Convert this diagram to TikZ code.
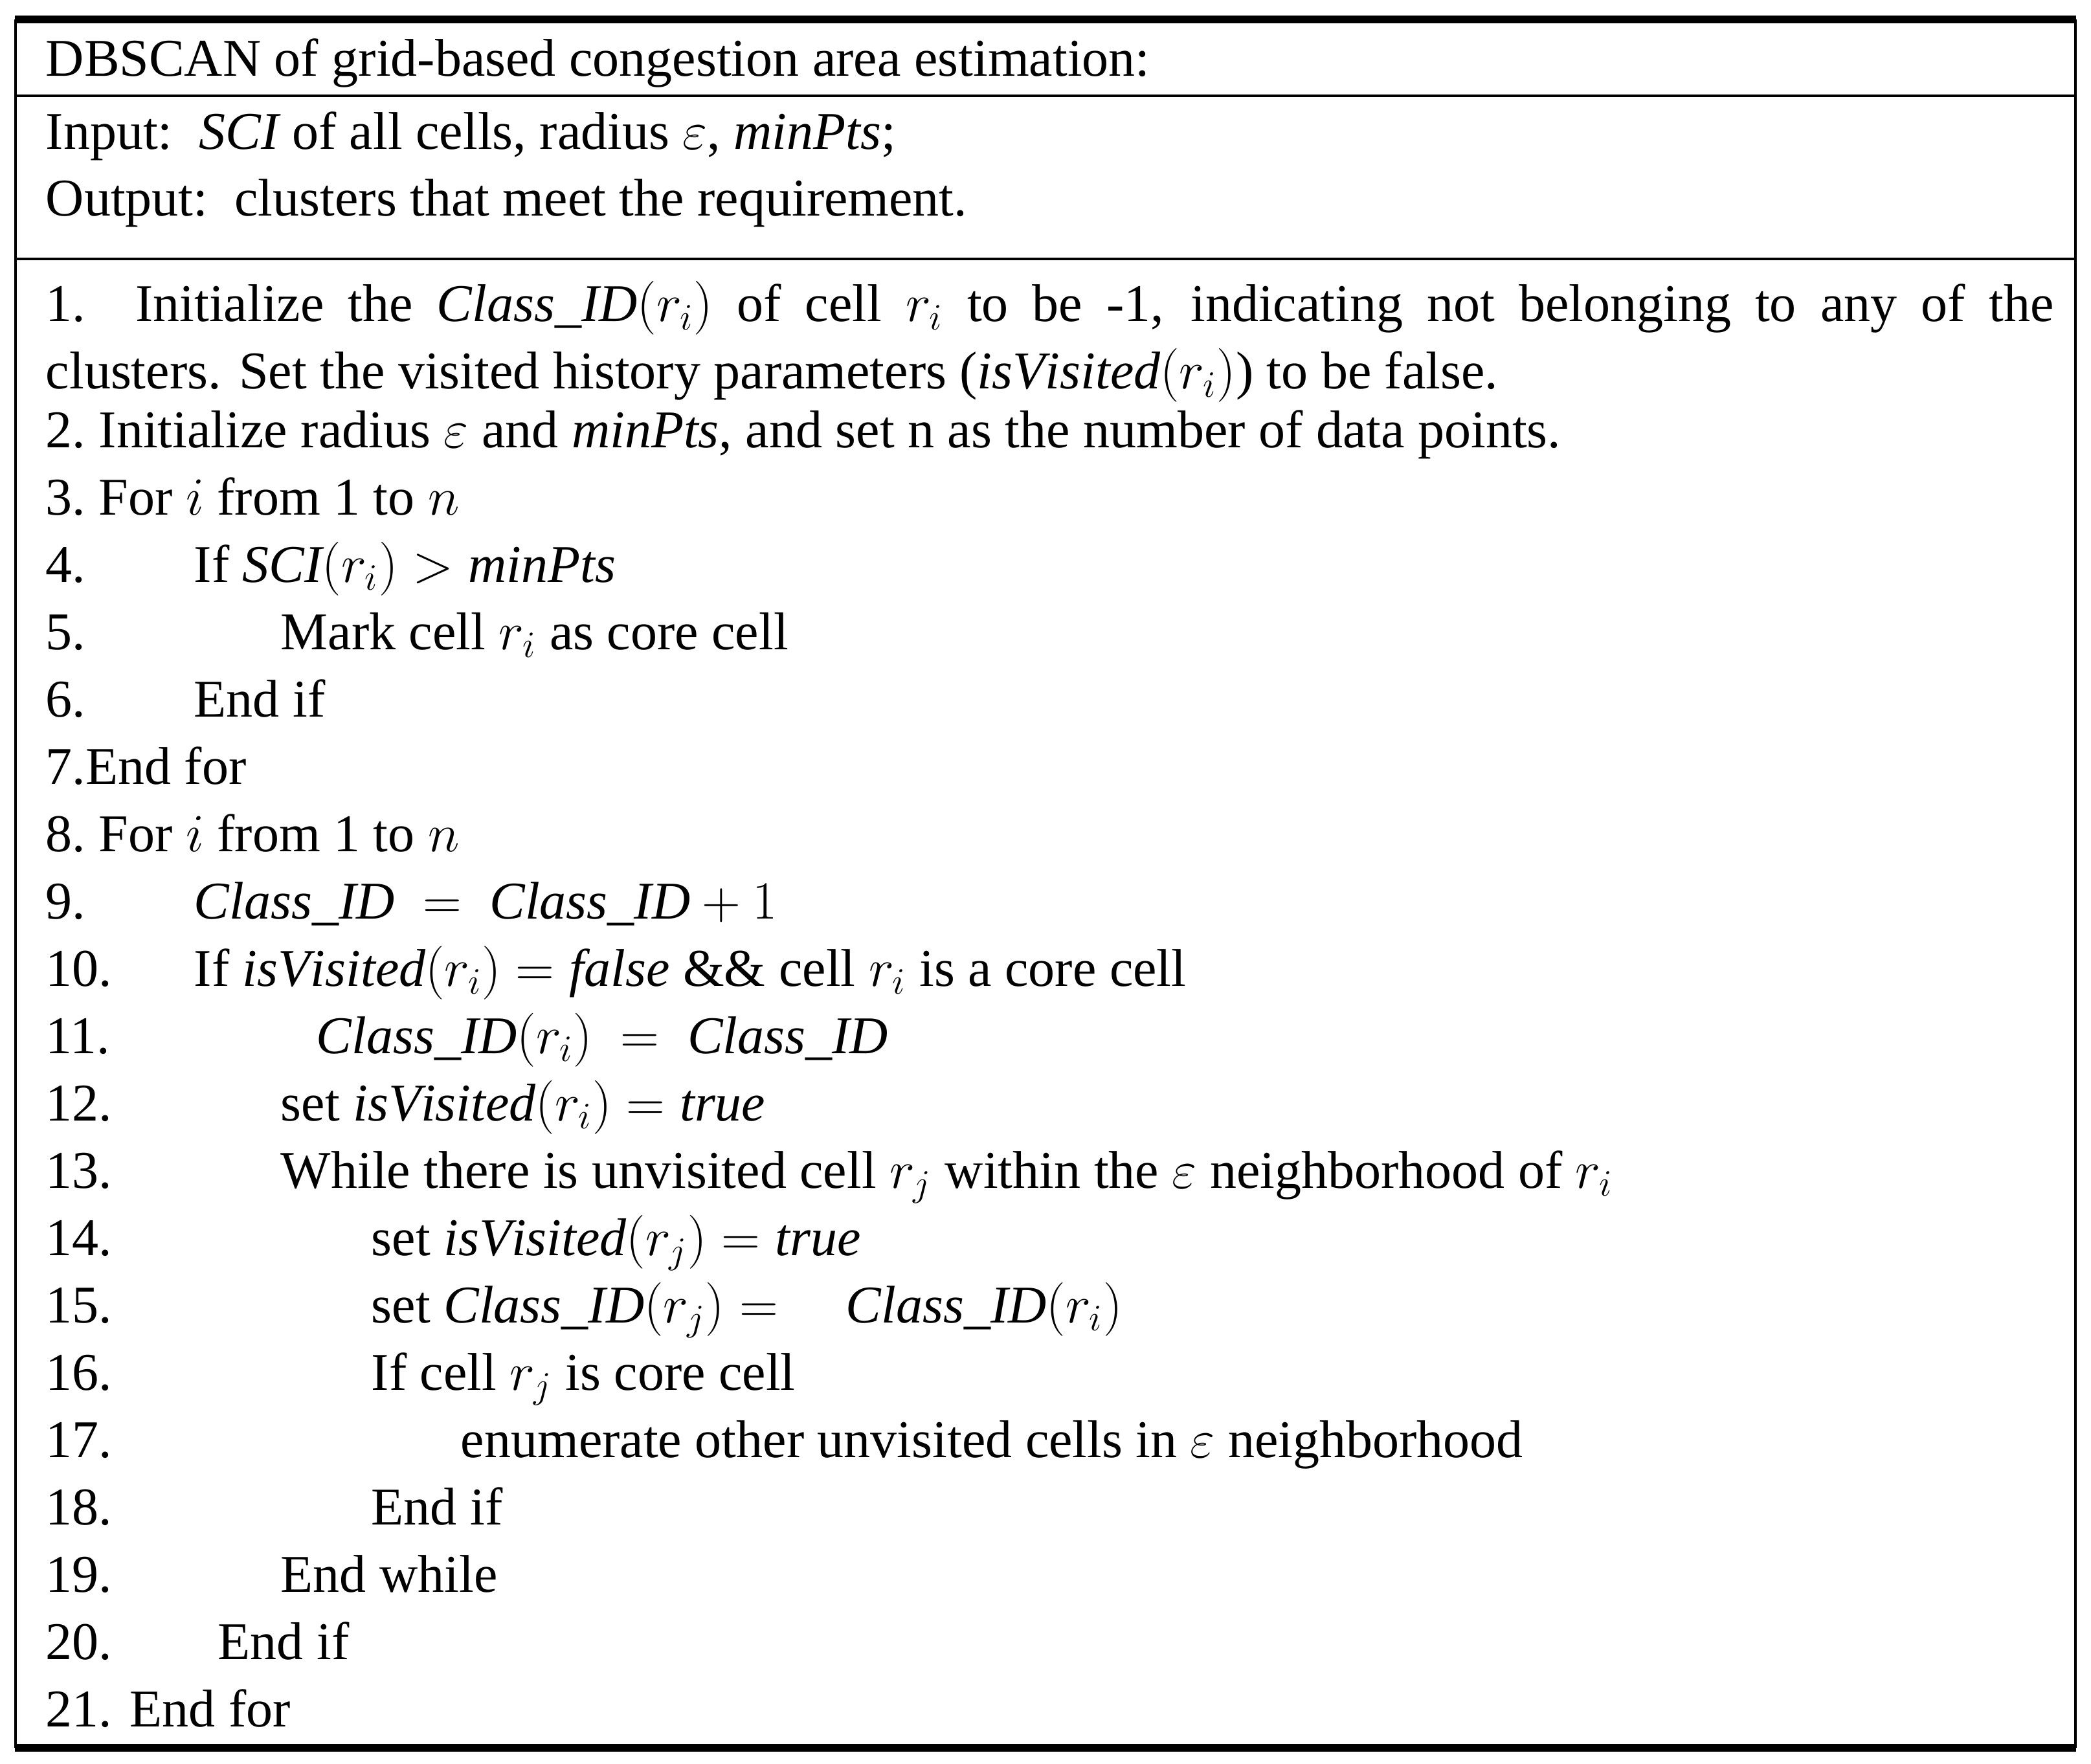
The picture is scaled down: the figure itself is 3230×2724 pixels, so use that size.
\documentclass[tikz,border=0pt]{standalone}
\usepackage{fontspec}
\setmainfont{Liberation Serif}
\begin{document}
\begin{tikzpicture}[x=0.25pt,y=-0.25pt,
  txt/.style={anchor=base west,inner sep=0pt,font=\fontsize{20.5}{26}\selectfont}]
\useasboundingbox (0,0) rectangle (3230,2724);
\newcommand{\CID}{\mathit{Class\_ID}}
\newcommand{\isV}{\mathit{isVisited}}
\draw[line width=3pt] (23,30) -- (3207,30);
\draw[line width=3pt] (23,2700) -- (3207,2700);
\draw[line width=0.8pt] (24,30) -- (24,2700) (3206,30) -- (3206,2700);
\draw[line width=0.8pt] (23,148) -- (3207,148) (23,400) -- (3207,400);
\node[txt] (t) at (70,117) {DBSCAN of grid-based congestion area estimation:};
\node[txt] (in) at (70,230) {Input:\ \ $\mathit{SCI}$ of all cells, radius $\varepsilon$, $\mathit{minPts}$;};
\node[txt] (out) at (70,333) {Output:\ \ clusters that meet the requirement.};
\node[txt,anchor=north west,text width=775.5pt,align=justify] (l1) at (70,434) {1. Initialize the $\CID(r_i)$ of cell $r_i$ to be -1, indicating not belonging to any of the\linebreak clusters. Set the visited history parameters ($\isV(r_i)$) to be false.};
\foreach \k/\x/\n/\t in {
 2/70/2./{Initialize radius $\varepsilon$ and $\mathit{minPts}$, and set n as the number of data points.},
 3/70/3./{For $i$ from 1 to $n$},
 4/70/4./{},
 5/70/5./{},
 6/70/6./{},
 7/70/7.End for/{},
 8/70/8./{For $i$ from 1 to $n$},
 9/70/9./{},10/70/10./{},11/70/11./{},12/70/12./{},13/70/13./{},14/70/14./{},
 15/70/15./{},16/70/16./{},17/70/17./{},18/70/18./{},19/70/19./{},20/70/20./{},
 21/70/21. End for/{}}
 {\node[txt] (n\k) at (\x,{483+104*\k}) {\n\ifx\relax\t\relax\else\ \t\fi};}
\newcommand{\row}[3]{\node[txt] (r#1) at (#2,{483+104*#1}) {#3};}
\row{4}{299}{If $\mathit{SCI}(r_i)>\mathit{minPts}$}
\row{5}{433}{Mark cell $r_i$ as core cell}
\row{6}{299}{End if}
\row{9}{299}{$\CID\ =\ \CID+1$}
\row{10}{299}{If $\isV(r_i)=\mathit{false}$ \&\& cell $r_i$ is a core cell}
\row{11}{488}{$\CID(r_i)\ =\ \CID$}
\row{12}{433}{set $\isV(r_i)=\mathit{true}$}
\row{13}{433}{While there is unvisited cell $r_j$ within the $\varepsilon$ neighborhood of $r_i$}
\row{14}{573}{set $\isV\bigl(r_j\bigr)=\mathit{true}$}
\row{15}{573}{set $\CID\bigl(r_j\bigr)=\quad\CID(r_i)$}
\row{16}{573}{If cell $r_j$ is core cell}
\row{17}{711}{enumerate other unvisited cells in $\varepsilon$ neighborhood}
\row{18}{573}{End if}
\row{19}{433}{End while}
\row{20}{336}{End if}
\end{tikzpicture}
\end{document}
